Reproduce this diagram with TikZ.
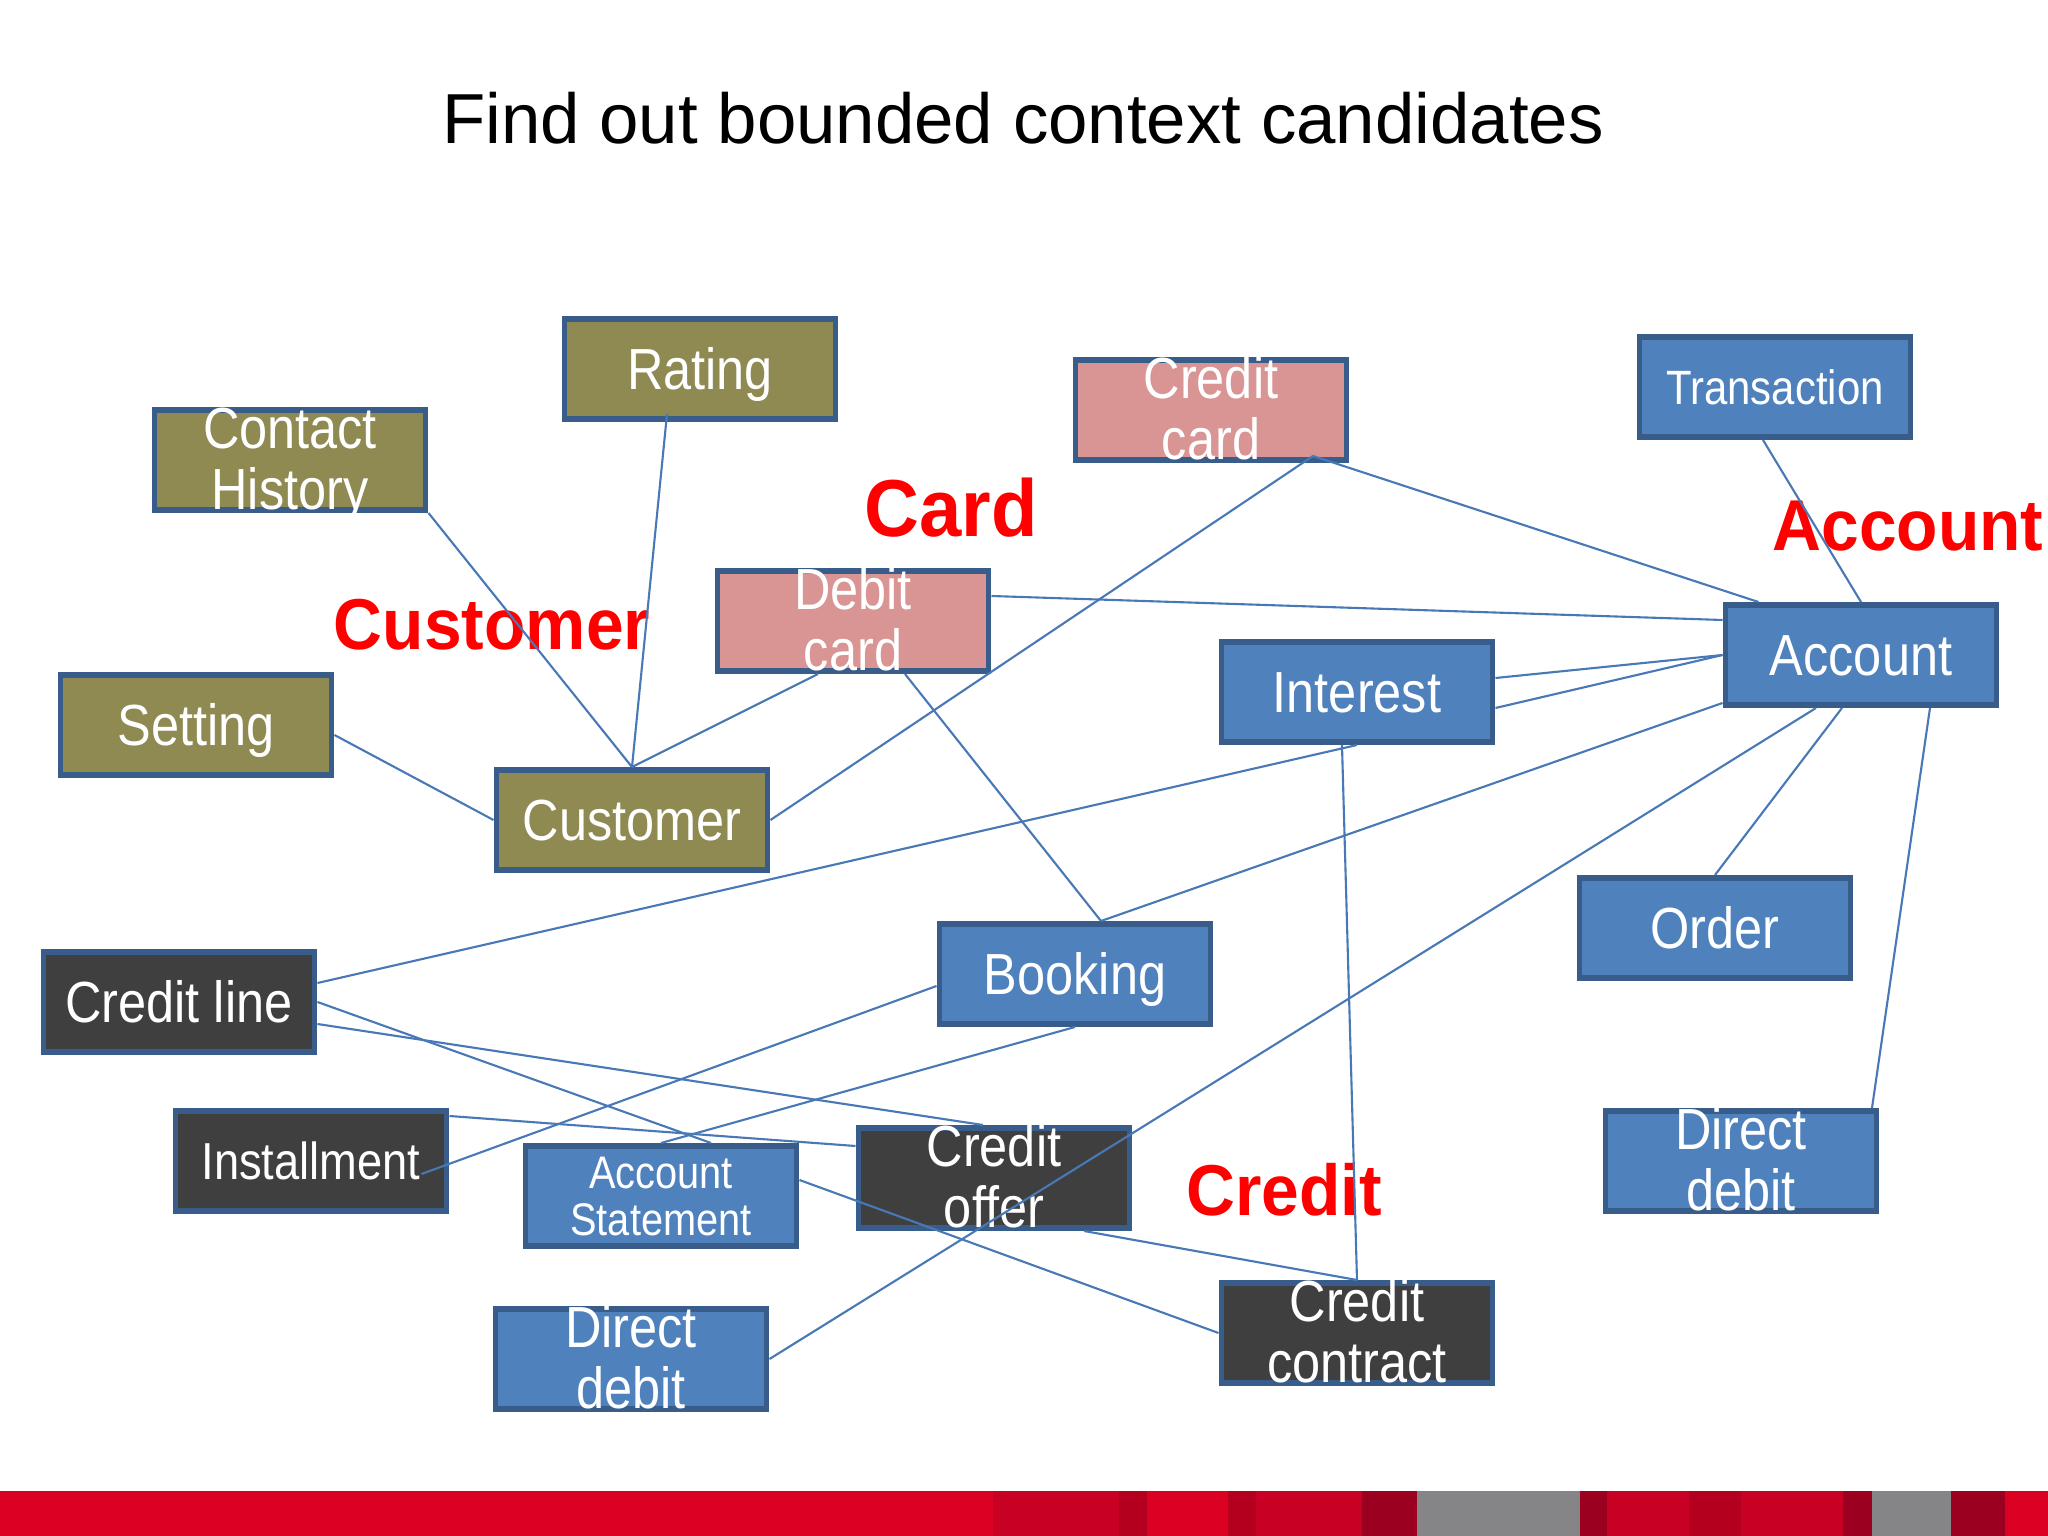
\documentclass[tikz,border=0pt]{standalone}
\usepackage{fontspec}
\usepackage{tikz}
\usepackage{xcolor}
\setmainfont{Liberation Sans}
\newfontfamily\boxfont{Liberation Sans}[FakeStretch=0.87]
\newfontfamily\groupfont{Liberation Sans}[FakeStretch=0.94]
\definecolor{ctx_customer}{RGB}{143,137,82}
\definecolor{ctx_card}{RGB}{217,149,148}
\definecolor{ctx_account}{RGB}{79,129,189}
\definecolor{ctx_credit}{RGB}{63,63,63}
\definecolor{frame_blue}{RGB}{56,93,138}
\definecolor{edge_blue}{RGB}{72,120,182}
\definecolor{bar_red}{RGB}{220,0,35}
\definecolor{bar_mid}{RGB}{200,0,35}
\definecolor{bar_dark}{RGB}{180,0,30}
\definecolor{bar_deep}{RGB}{155,0,32}
\definecolor{bar_gray}{RGB}{133,132,135}

\tikzset{
    entity/.style = {draw=frame_blue, line width=1.7pt, minimum width=2.71cm,
        minimum height=1.0cm, inner sep=0pt, text=white, align=center,
        text height=11.8pt, text depth=0pt,
        font=\boxfont\fontsize{16.5}{17.4}\selectfont},
    two lines/.style = {text height=28.4pt, text depth=0pt},
    group/.style = {text=red, anchor=base, font=\groupfont\bfseries\fontsize{20.5}{24}\selectfont},
    link/.style = {draw=edge_blue, line width=0.6pt}
}

\begin{document}
\begin{tikzpicture}[x=1cm, y=-1cm]
            \useasboundingbox (0,0) rectangle (20.48,15.36);
            \fill[white] (0,0) rectangle (20.48,15.36);

            % bar at the bottom
            \foreach \a/\b/\c in {0/9.93/bar_red, 9.93/11.19/bar_mid, 11.19/11.47/bar_dark,
                    11.47/12.28/bar_red, 12.28/12.56/bar_dark, 12.56/13.62/bar_mid,
                    13.62/14.17/bar_deep, 14.17/15.80/bar_gray, 15.80/16.07/bar_deep,
                    16.07/16.89/bar_mid, 16.89/17.41/bar_dark, 17.41/18.43/bar_mid,
                    18.43/18.72/bar_deep, 18.72/19.51/bar_gray, 19.51/20.05/bar_deep,
                    20.05/20.48/bar_red}
                \fill[\c] (\a,14.91) rectangle (\b,15.36);

            \node[anchor=base, font=\fontsize{20.15}{24}\selectfont] (title) at (10.23,1.44)
                {Find out bounded context candidates};

            % context names
            \node[group] (lblcustomer) at (4.92,6.50) {Customer};
            \node[group, font=\groupfont\bfseries\fontsize{23}{26}\selectfont] (lblcard) at (9.51,5.37) {Card};
            \node[group] (lblaccount) at (19.08,5.51) {Account};
            \node[group] (lblcredit) at (12.84,12.15) {Credit};

            % customer
            \node[entity, fill=ctx_customer] (rating) at (7.00,3.69) {Rating};
            \node[entity, two lines, fill=ctx_customer] (contact) at (2.90,4.60) {Contact\\History};
            \node[entity, fill=ctx_customer] (setting) at (1.96,7.25) {Setting};
            \node[entity, fill=ctx_customer] (customer) at (6.32,8.20) {Customer};

            % card
            \node[entity, two lines, fill=ctx_card] (creditcard) at (12.11,4.10) {Credit\\card};
            \node[entity, two lines, fill=ctx_card] (debitcard) at (8.53,6.21) {Debit\\card};

            % account
            \node[entity, fill=ctx_account, font=\boxfont\fontsize{13.7}{16}\selectfont,
                text height=9.8pt] (transaction) at (17.75,3.87) {Transaction};
            \node[entity, fill=ctx_account] (account) at (18.61,6.55) {Account};
            \node[entity, fill=ctx_account] (interest) at (13.57,6.92) {Interest};
            \node[entity, fill=ctx_account] (order) at (17.15,9.28) {Order};
            \node[entity, fill=ctx_account] (booking) at (10.75,9.74) {Booking};
            \node[entity, fill=ctx_account, font=\boxfont\fontsize{13}{13.4}\selectfont,
                text height=22.7pt] (statement) at (6.61,11.96) {Account\\Statement};
            \node[entity, two lines, fill=ctx_account] (directdebit) at (17.41,11.61) {Direct\\debit};
            \node[entity, two lines, fill=ctx_account] (directdebit2) at (6.31,13.59) {Direct\\debit};

            % credit
            \node[entity, fill=ctx_credit] (creditline) at (1.79,10.02) {Credit line};
            \node[entity, fill=ctx_credit, font=\boxfont\fontsize{14.8}{17}\selectfont,
                text height=10.6pt] (installment) at (3.11,11.61) {Installment};
            \node[entity, two lines, fill=ctx_credit] (creditoffer) at (9.94,11.78) {Credit\\offer};
            \node[entity, two lines, fill=ctx_credit] (contract) at (13.57,13.33) {Credit\\contract};

            % relations
            \draw[link] (contact.south east) -- (customer.north);
            \draw[link] ([xshift=-0.33cm, yshift=0.08cm]rating.south) -- (customer.north);
            \draw[link] ([yshift=-0.1cm]setting.east) -- (customer.west);
            \draw[link] ([xshift=-0.35cm]debitcard.south) -- (customer.north);
            \draw[link] (customer.east) -- ([xshift=1.02cm, yshift=0.07cm]creditcard.south);
            \draw[link] ([xshift=1.02cm, yshift=0.07cm]creditcard.south) -- ([xshift=0.36cm]account.north west);
            \draw[link] ([yshift=0.25cm]debitcard.east) -- ([yshift=0.35cm]account.west);
            \draw[link] ([yshift=0.14cm]interest.east) -- (account.west);
            \draw[link] ([yshift=-0.16cm]interest.east) -- (account.west);
            \draw[link] (interest.south) -- ([yshift=0.19cm]creditline.east);
            \draw[link] ([xshift=-0.15cm]interest.south) -- (contract.north);
            \draw[link] ([yshift=0.05cm]account.south west) -- ([xshift=0.26cm]booking.north);
            \draw[link] ([xshift=0.52cm]debitcard.south) -- ([xshift=0.26cm]booking.north);
            \draw[link] ([xshift=-0.45cm]account.south) -- (directdebit2.east);
            \draw[link] ([xshift=-0.19cm]account.south) -- (order.north);
            \draw[link] ([xshift=0.69cm]account.south) -- ([xshift=1.31cm]directdebit.north);
            \draw[link] ([xshift=-0.12cm]transaction.south) -- (account.north);
            \draw[link] (creditline.east) -- ([xshift=0.5cm]statement.north);
            \draw[link] ([yshift=-0.22cm]creditline.east) -- ([xshift=-0.11cm]creditoffer.north);
            \draw[link] ([yshift=0.45cm]installment.east) -- ([yshift=0.32cm]creditoffer.west);
            \draw[link] ([xshift=-0.28cm, yshift=-0.13cm]installment.east) -- ([yshift=-0.12cm]booking.west);
            \draw[link] (statement.north) -- (booking.south);
            \draw[link] ([yshift=0.16cm]statement.east) -- (contract.west);
            \draw[link] ([xshift=0.9cm]creditoffer.south) -- (contract.north);
\end{tikzpicture}
\end{document}
